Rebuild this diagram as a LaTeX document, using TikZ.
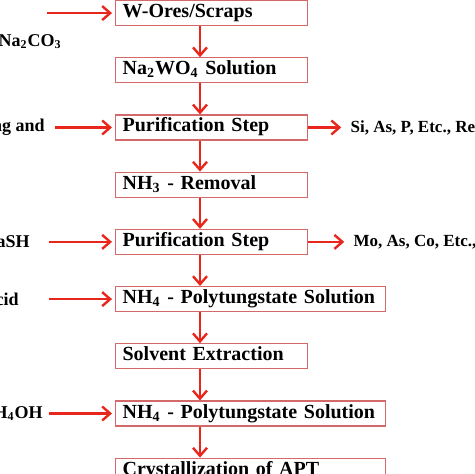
\documentclass[tikz,border=0pt]{standalone}
\usepackage{fontspec}
\setmainfont{Liberation Serif}
\usetikzlibrary{positioning,arrows.meta}
\definecolor{flowred}{RGB}{232,38,28}
\definecolor{boxred}{RGB}{212,105,105}

\begin{document}
\begin{tikzpicture}[x=0.5pt, y=-0.5pt, node distance=15.5pt,
        flow box/.style={rectangle, draw=boxred, line width=0.6pt, text width=89pt, align=left, inner xsep=3.5pt, inner ysep=1.5pt, text height=7pt, text depth=2.5pt, font=\bfseries\fontsize{10}{12}\selectfont},
        wide box/.style={flow box, text width=128pt},
        feed text/.style={inner sep=0pt, font=\bfseries\fontsize{9}{11}\selectfont},
        out text/.style={inner sep=0pt, font=\bfseries\fontsize{8.5}{10}\selectfont},
        line/.style={draw=flowred, line width=1.2pt, -{Straight Barb[length=4pt,width=7pt]}}]
        \useasboundingbox (0,0) rectangle (474,474);
        \clip (0,0) rectangle (474,474);

        % main chain
        \node [flow box, anchor=north west] (ores) at (115,0) {W-Ores/Scraps};
        \node [flow box, below=of ores.south west, anchor=north west] (tungstate) {Na\textsubscript{2}WO\textsubscript{4} Solution};
        \node [flow box, below=of tungstate.south west, anchor=north west] (pur1) {Purification Step};
        \node [flow box, below=of pur1.south west, anchor=north west] (nh3) {NH\textsubscript{3} - Removal};
        \node [flow box, below=of nh3.south west, anchor=north west] (pur2) {Purification Step};
        \node [wide box, below=of pur2.south west, anchor=north west] (poly1) {NH\textsubscript{4} - Polytungstate Solution};
        \node [flow box, below=of poly1.south west, anchor=north west] (solvent) {Solvent Extraction};
        \node [wide box, below=of solvent.south west, anchor=north west] (poly2) {NH\textsubscript{4} - Polytungstate Solution};
        \node [wide box, below=of poly2.south west, anchor=north west] (apt) {Crystallization of APT};

        \coordinate (axis) at (200,0);
        \path [line] (ores.south -| axis) -- (tungstate.north -| axis);
        \path [line] (tungstate.south -| axis) -- (pur1.north -| axis);
        \path [line] (pur1.south -| axis) -- (nh3.north -| axis);
        \path [line] (nh3.south -| axis) -- (pur2.north -| axis);
        \path [line] (pur2.south -| axis) -- (poly1.north -| axis);
        \path [line] (poly1.south -| axis) -- (solvent.north -| axis);
        \path [line] (solvent.south -| axis) -- (poly2.north -| axis);
        \path [line] (poly2.south -| axis) -- (apt.north -| axis);

        % feeds on the left
        \coordinate [left=34pt of ores.west] (ores in);
        \coordinate [left=30pt of pur1.west] (pur1 in);
        \coordinate [left=33pt of pur2.west] (pur2 in);
        \coordinate [left=33pt of poly1.west] (poly1 in);
        \coordinate [left=33pt of poly2.west] (poly2 in);
        \path [line, shorten >=1.5pt] (ores in) -- (ores.west);
        \path [line, shorten >=1.5pt] (pur1 in) -- (pur1.west);
        \path [line, shorten >=1.5pt] (pur2 in) -- (pur2.west);
        \path [line, shorten >=1.5pt] (poly1 in) -- (poly1.west);
        \path [line, shorten >=1.5pt] (poly2 in) -- (poly2.west);

        \node [feed text, anchor=east] (soda) at (62,42) {Na\textsubscript{2}CO\textsubscript{3}};
        \node [feed text, left=5pt of pur1 in] (leach) {Leaching and};
        \node [feed text, left=9.5pt of pur2 in] (nash) {NaSH};
        \node [feed text, left=15pt of poly1 in] (acid) {Acid};
        \node [feed text, left=3pt of poly2 in] (ammonia) {NH\textsubscript{4}OH};

        % removals on the right
        \node [out text, right=21pt of pur1.east] (rem1) {Si, As, P, Etc., Removal};
        \node [out text, right=22.5pt of pur2.east] (rem2) {Mo, As, Co, Etc., Removal};
        \path [line, shorten >=4.5pt] (pur1.east) -- (pur1.east -| rem1.west);
        \path [line, shorten >=4.5pt] (pur2.east) -- (pur2.east -| rem2.west);
    \end{tikzpicture}
\end{document}
